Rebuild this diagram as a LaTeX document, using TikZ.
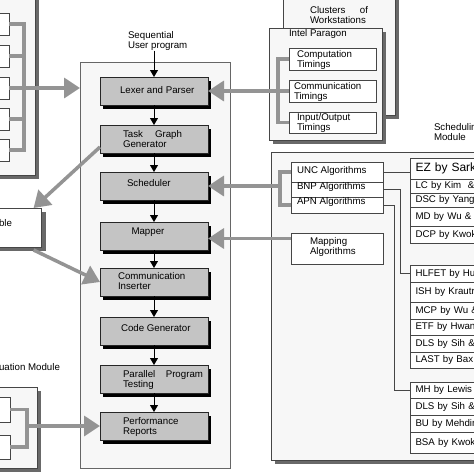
\documentclass[tikz,border=0pt]{standalone}
\usepackage{fontspec}
\setmainfont{Liberation Sans}
\usetikzlibrary{arrows.meta,shadows}
\definecolor{conn}{RGB}{148,148,148}
\definecolor{procfill}{RGB}{196,196,196}
\definecolor{panelfill}{RGB}{247,247,247}
\definecolor{edge}{RGB}{70,70,70}
\definecolor{shade}{RGB}{105,105,105}
\begin{document}
\begin{tikzpicture}[x=1pt,y=-1pt,
  every node/.style={inner sep=0pt, outer sep=0pt},
  lbl/.style={font=\fontsize{9.7}{10}\selectfont, align=left, anchor=west, text=black},
  proc/.style={draw=black!85, fill=procfill, line width=0.7pt, anchor=north west, minimum width=108pt, minimum height=28pt,
    drop shadow={shadow xshift=3pt, shadow yshift=-4pt, fill=black, opacity=1}},
  panel/.style={draw=edge, fill=panelfill, line width=0.7pt, anchor=north west,
    drop shadow={shadow xshift=4pt, shadow yshift=-4pt, fill=shade, opacity=1}},
  container/.style={draw=black!60, fill=panelfill, line width=0.7pt, anchor=north west},
  wbox/.style={draw=edge, fill=white, line width=0.7pt, anchor=north west},
  row/.style={draw=edge, fill=white, line width=0.7pt, anchor=north west, minimum width=100pt, text width=89pt,
    inner xsep=5.5pt, align=left, font=\fontsize{9.7}{10}\selectfont},
  bus/.style={draw=conn, line width=3.5pt},
  garrow/.style={draw=conn, line width=3.5pt, -{Triangle[length=16pt,width=20pt]}},
  barrow/.style={draw=black, line width=0.9pt, -{Triangle[length=7pt,width=8pt]}},
  thinline/.style={draw=edge, line width=0.7pt}
]
\useasboundingbox (0,0) rectangle (474,474);
\clip (0,0) rectangle (474,474);
\fill[white] (0,0) rectangle (474,474);

% main pipeline container
\node[container, minimum width=150pt, minimum height=406pt] (main) at (80,62) {};

% upper-left panel
\node[panel, minimum width=45pt, minimum height=185pt] (ulp) at (-10,-10) {};
\node[wbox, minimum width=19pt, minimum height=22pt] (ul1) at (-10,13) {};
\node[wbox, minimum width=19pt, minimum height=22pt] (ul2) at (-10,45) {};
\node[wbox, minimum width=19pt, minimum height=22pt] (ul3) at (-10,77) {};
\node[wbox, minimum width=19pt, minimum height=22pt] (ul4) at (-10,108) {};
\node[wbox, minimum width=19pt, minimum height=22pt] (ul5) at (-10,139) {};

% "ble" box
\node[panel, fill=white, minimum width=51.6pt, minimum height=39pt] (ble) at (-10,208) {};
\node[lbl] (bleT) at (-1,223) {ble};

% evaluation module
\node[lbl] (evalT) at (-1,367) {uation Module};
\node[panel, minimum width=47pt, minimum height=81pt] (evp) at (-10,387) {};
\node[wbox, minimum width=20pt, minimum height=25pt] (ev1) at (-10,397) {};
\node[wbox, minimum width=20pt, minimum height=24pt] (ev2) at (-10,435) {};

% clusters / intel panels
\node[panel, minimum width=112pt, minimum height=125pt] (clu) at (283,-10) {};
\node[lbl] (cluT) at (310,15) {\makebox[58pt]{Clusters\hfill of}\\Workstations};
\node[panel, minimum width=113pt, minimum height=112pt] (intel) at (269,28) {};
\node[lbl] (intelT) at (289,34) {Intel Paragon};
\node[wbox, minimum width=87pt, minimum height=22pt] (comp) at (289,48) {};
\node[lbl] (compT) at (297,59.5) {Computation\\Timings};
\node[wbox, minimum width=87pt, minimum height=22pt] (commt) at (289,80) {};
\node[lbl] (commtT) at (294,92) {Communication\\Timings};
\node[wbox, minimum width=87pt, minimum height=21pt] (iot) at (289,112) {};
\node[lbl] (iotT) at (297,122.5) {Input/Output\\Timings};

% scheduling module
\node[lbl] (schedT) at (434,132) {Scheduling\\Module};
\node[panel, drop shadow={shadow xshift=5pt, shadow yshift=-4pt, fill=shade, opacity=1}, minimum width=250pt, minimum height=308pt] (smod) at (271,152) {};
\node[wbox, minimum width=92pt, minimum height=20pt] (unc) at (291,162) {};
\node[wbox, minimum width=92pt, minimum height=15pt] (bnp) at (291,182) {};
\node[wbox, minimum width=92pt, minimum height=16pt] (apn) at (291,197) {};
\node[lbl] (uncT) at (297,171) {UNC Algorithms};
\node[lbl] (bnpT) at (297,187) {BNP Algorithms};
\node[lbl] (apnT) at (297,202) {APN Algorithms};
\node[wbox, minimum width=92pt, minimum height=31pt] (mapalg) at (291,233) {};
\node[lbl] (mapalgT) at (310,247) {Mapping\\Algorithms};

% algorithm lists
\node[row, minimum height=21pt, font=\fontsize{12}{13}\selectfont] (ez) at (410,158) {EZ by Sark};
\node[row, minimum height=14pt] (lc) at (410,179) {LC by Kim \ \&};
\node[row, minimum height=14pt] (dsc) at (410,193) {DSC by Yang};
\node[row, minimum height=19pt] (md) at (410,207) {MD by Wu \&};
\node[row, minimum height=17pt] (dcp) at (410,226) {DCP by Kwok};

\node[row, minimum height=17pt] (hlfet) at (410,265) {HLFET by Hu};
\node[row, minimum height=20pt] (ish) at (410,282) {ISH by Krautr};
\node[row, minimum height=17pt] (mcp) at (410,302) {MCP by Wu \&};
\node[row, minimum height=16pt] (etf) at (410,319) {ETF by Hwan};
\node[row, minimum height=17pt] (dlsa) at (410,335) {DLS by Sih \&};
\node[row, minimum height=16pt] (last) at (410,352) {LAST by Bax};

\node[row, minimum height=16pt] (mh) at (410,382) {MH by Lewis};
\node[row, minimum height=17pt] (dlsb) at (410,398) {DLS by Sih \&};
\node[row, minimum height=17pt] (bu) at (410,415) {BU by Mehdir};
\node[row, minimum height=21pt] (bsa) at (410,432) {BSA by Kwok};

% thin connectors in scheduling module
\coordinate (bx) at (400,0);
\coordinate (ax) at (394,0);
\draw[thinline] (unc.east) -- (unc.east -| ez.west);
\draw[thinline] (bnp.east) -- (bnp.east -| bx) -- (hlfet.west -| bx) -- (hlfet.west);
\draw[thinline] (apn.east) -- (apn.east -| ax) -- (mh.west -| ax) -- (mh.west);

% process boxes
\node[lbl] (seqT) at (128,41) {Sequential\\User program};
\node[proc] (lexer) at (100,77) {};
\node[lbl] (lexerT) at (120,90.5) {Lexer and Parser};
\node[proc] (task) at (100,125) {};
\node[lbl] (taskT) at (123,139.5) {\makebox[59pt]{Task\hfill Graph}\\Generator};
\node[proc] (sched) at (100,172) {};
\node[lbl] (schedBT) at (127,183) {Scheduler};
\node[proc] (mapper) at (100,222) {};
\node[lbl] (mapperT) at (131.5,232) {Mapper};
\node[proc] (comm) at (100,268) {};
\node[lbl] (commT) at (118,281.5) {Communication\\Inserter};
\node[proc] (code) at (100,317) {};
\node[lbl] (codeT) at (121,328) {Code Generator};
\node[proc] (par) at (100,365) {};
\node[lbl] (parT) at (123,380) {\makebox[80pt]{Parallel\hfill Program}\\Testing};
\node[proc] (perf) at (100,412) {};
\node[lbl] (perfT) at (123,427) {Performance\\Reports};

% black flow arrows
\draw[barrow] (seqT.south -| lexer.north) -- (lexer.north);
\draw[barrow] (lexer.south) -- (task.north);
\draw[barrow] (task.south) -- (sched.north);
\draw[barrow] (sched.south) -- (mapper.north);
\draw[barrow] (mapper.south) -- (comm.north);
\draw[barrow] (comm.south) -- (code.north);
\draw[barrow] (code.south) -- (par.north);
\draw[barrow] (par.south) -- (perf.north);

% gray buses and arrows: upper-left panel
\coordinate (ulx) at (24,0);
\draw[bus] (ul1.east) -- (ul1.east -| ulx) -- (ul5.east -| ulx) -- (ul5.east);
\draw[bus] (ul2.east) -- (ul2.east -| ulx);
\draw[bus] (ul3.east) -- (ul3.east -| ulx);
\draw[bus] (ul4.east) -- (ul4.east -| ulx);
\draw[garrow] (ul3.east -| ulx) -- (ul3.east -| main.west);

% task graph -> ble -> communication inserter
\coordinate (taskOut) at ([yshift=-8pt]task.west);
\coordinate (bleIn) at ([xshift=-8pt]ble.north east);
\coordinate (bleOut) at ([xshift=-8pt,yshift=-3pt]ble.south east);
\draw[garrow] (taskOut) -- (bleIn);
\draw[garrow] (bleOut) -- (comm.west);

% evaluation module bus
\coordinate (evx) at (27,0);
\draw[bus] (ev1.east) -- (ev1.east -| evx) -- (ev2.east -| evx) -- (ev2.east);
\draw[garrow] (perf.west -| evx) -- (perf.west);

% intel paragon bus
\coordinate (ix) at (278,0);
\draw[bus] (comp.west) -- (comp.west -| ix) -- (iot.west -| ix) -- (iot.west);
\draw[bus] (commt.west) -- (commt.west -| ix);
\draw[garrow] (lexer.east -| ix) -- (lexer.east);

% scheduling algorithms bus
\coordinate (sx) at (280,0);
\draw[bus] (unc.west) -- (unc.west -| sx) -- (apn.west -| sx) -- (apn.west);
\draw[garrow] (sched.east -| sx) -- (sched.east);

% mapping algorithms
\coordinate (mapin) at ([yshift=10pt]mapalg.west);
\draw[garrow] (mapin) -- (mapin -| mapper.east);
\end{tikzpicture}
\end{document}
